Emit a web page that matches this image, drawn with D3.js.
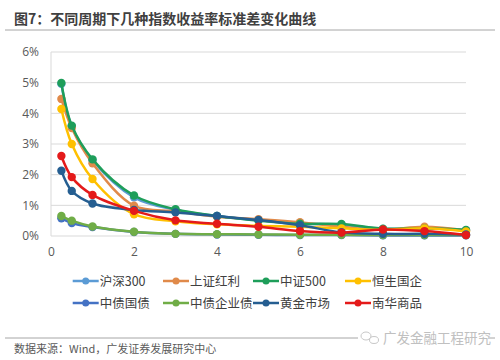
<!DOCTYPE html>
<html><head><meta charset="utf-8">
<script src="https://cdn.jsdelivr.net/npm/d3@7/dist/d3.min.js"></script>
<style>body{margin:0;background:#fff;}svg{display:block;font-family:"Noto Sans CJK SC","Microsoft YaHei",sans-serif;}</style>
</head><body><svg id="c" width="500" height="360"></svg>
<script>
const periods = [0.25, 0.5, 1, 2, 3, 4, 5, 6, 7, 8, 9, 10];
const seriesNames = ["沪深300","上证红利","中证500","恒生国企","中债国债","中债企业债","黄金市场","南华商品"];
const hs300  = [4.96,3.58,2.47,1.26,0.85,0.65,0.51,0.41,0.37,0.23,0.25,0.19];
const szhl   = [4.47,3.52,2.37,0.99,0.80,0.63,0.55,0.45,0.30,0.20,0.30,0.18];
const zz500  = [4.99,3.60,2.50,1.32,0.87,0.65,0.50,0.40,0.39,0.24,0.25,0.20];
const hsgq   = [4.14,3.00,1.86,0.71,0.48,0.38,0.33,0.30,0.25,0.20,0.25,0.15];
const zzgz   = [0.58,0.42,0.29,0.13,0.07,0.05,0.04,0.03,0.03,0.02,0.02,0.02];
const zzqyz  = [0.65,0.50,0.31,0.14,0.07,0.06,0.05,0.04,0.04,0.03,0.03,0.03];
const gold   = [2.13,1.47,1.06,0.85,0.77,0.65,0.52,0.35,0.12,0.07,0.07,0.05];
const nanhua = [2.61,1.92,1.34,0.82,0.51,0.40,0.30,0.16,0.11,0.21,0.16,0.03];
const seriesValues = [hs300,szhl,zz500,hsgq,zzgz,zzqyz,gold,nanhua];
const colors = ["#5B9BD5","#E08A4A","#1E9E5A","#FFC000","#4472C4","#70AD47","#255E91","#E41A1A"];
const xTicks = [0,2,4,6,8,10];
const yTicks = [0,1,2,3,4,5,6];

const svg = d3.select("#c");
// title
svg.append("text").attr("x",14).attr("y",24).attr("font-size",14).attr("font-weight","bold")
  .attr("fill","#404040").text("图7：不同周期下几种指数收益率标准差变化曲线");
svg.append("line").attr("x1",5).attr("x2",495).attr("y1",30).attr("y2",30).attr("stroke","#a6a6a6").attr("stroke-width",1);

const x = d3.scaleLinear().domain([0,10]).range([51,466]);
const y = d3.scaleLinear().domain([0,6]).range([236,52]);

// grid
const g = svg.append("g");
g.selectAll("line.grid").data(yTicks).join("line")
  .attr("x1",51).attr("x2",466).attr("y1",d=>y(d)).attr("y2",d=>y(d))
  .attr("stroke","#d9d9d9").attr("stroke-width",1);
g.append("line").attr("x1",51).attr("x2",51).attr("y1",52).attr("y2",236).attr("stroke","#d9d9d9");

const yAxis = d3.axisLeft(y).tickValues(yTicks).tickSize(0).tickPadding(12).tickFormat(d=>d+"%");
const ya = svg.append("g").attr("transform","translate(51,0)").call(yAxis);
ya.select(".domain").remove();
ya.selectAll("text").attr("font-size",12).attr("fill","#595959").attr("font-family","'Open Sans','Noto Sans',sans-serif");

const xAxis = d3.axisBottom(x).tickValues(xTicks).tickSize(0).tickPadding(11).tickFormat(d3.format("d"));
const xa = svg.append("g").attr("transform","translate(0,236)").call(xAxis);
xa.select(".domain").remove();
xa.selectAll("text").attr("font-size",12).attr("fill","#595959").attr("font-family","'Open Sans','Noto Sans',sans-serif");

const line = d3.line().x((d,i)=>x(periods[i])).y(d=>y(d)).curve(d3.curveCatmullRom.alpha(0.5));
seriesValues.forEach((vals,si)=>{
  const sg = svg.append("g");
  sg.append("path").datum(vals).attr("d",line).attr("fill","none")
    .attr("stroke",colors[si]).attr("stroke-width",2.5);
  sg.selectAll("circle").data(vals).join("circle")
    .attr("cx",(d,i)=>x(periods[i])).attr("cy",d=>y(d)).attr("r",4.2).attr("fill",colors[si]);
});

// legend
const legCols = [72.7,163,253,345];
const legRows = [281,303];
seriesNames.forEach((n,i)=>{
  const lx = legCols[i%4], ly = legRows[Math.floor(i/4)];
  const lg = svg.append("g");
  lg.append("line").attr("x1",lx).attr("x2",lx+26).attr("y1",ly).attr("y2",ly).attr("stroke",colors[i]).attr("stroke-width",2.5);
  lg.append("circle").attr("cx",lx+13).attr("cy",ly).attr("r",3.5).attr("fill",colors[i]);
  lg.append("text").attr("x",lx+27).attr("y",ly+4.5).attr("font-size",12.5).attr("fill","#404040").text(n);
});

// footer
svg.append("line").attr("x1",5).attr("x2",495).attr("y1",338).attr("y2",338).attr("stroke","#a6a6a6").attr("stroke-width",1);
svg.append("rect").attr("x",358).attr("y",330).attr("width",130).attr("height",16).attr("fill","#fff");
svg.append("ellipse").attr("cx",366).attr("cy",336).attr("rx",5).attr("ry",4).attr("fill","none").attr("stroke","#c8c8c8");
svg.append("ellipse").attr("cx",374).attr("cy",340).attr("rx",4.5).attr("ry",3.5).attr("fill","none").attr("stroke","#c8c8c8");
svg.append("text").attr("x",383).attr("y",343).attr("font-size",13.5).attr("fill","#c0c0c0").text("广发金融工程研究");
svg.append("text").attr("x",14).attr("y",353).attr("font-size",11).attr("fill","#595959").text("数据来源：Wind，广发证券发展研究中心");
</script></body></html>
